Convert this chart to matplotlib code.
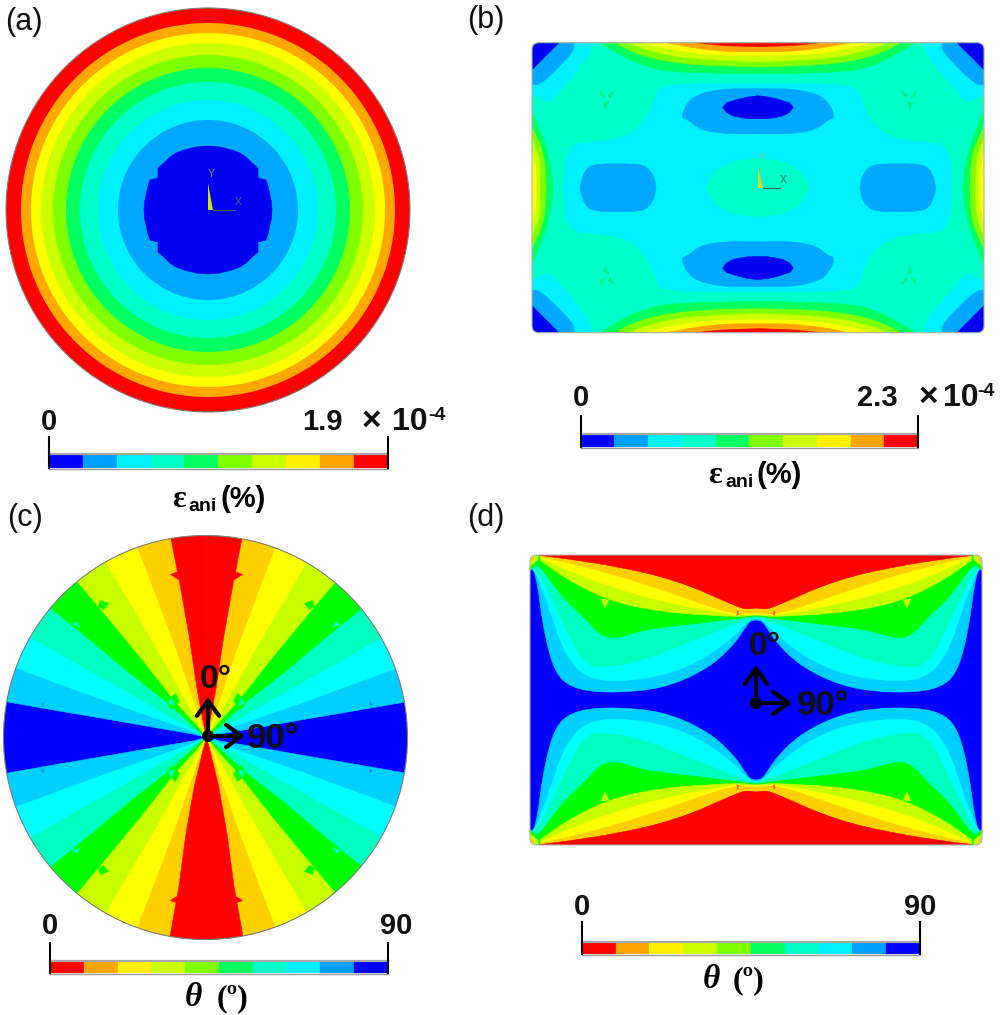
import numpy as np
import matplotlib
matplotlib.use('Agg')
import matplotlib.pyplot as plt
from matplotlib.patches import Circle, FancyBboxPatch, Polygon, Rectangle

# ---------------- COLOURS ----------------
bar_colors = ['#0000ff', '#00a0ff', '#00f0ff', '#00ffc8', '#00ff60',
              '#80ff00', '#ccff00', '#ffef00', '#ffa500', '#ff0000']
c_red, c_orange, c_yellow, c_lime = '#ff0000', '#ffd000', '#ffff00', '#c8ff00'
c_green, c_teal, c_cyan, c_sky, c_blue = '#00ff00', '#00ffc0', '#00ffff', '#00d0ff', '#0000ff'

# ---------------- PANEL A: ring radii (px), outside to inside ----------------
a_radii = [202, 187, 177, 167, 155, 142, 128, 110, 90]
a_colors = ['#ff0000', '#ffa800', '#ffff00', '#ccff00', '#7fff00',
            '#00ff60', '#00ffc8', '#00f0ff', '#00a8ff']
a_core = [(64, 0), (63.5, 8), (62, 15), (60, 24), (58, 30), (50, 32), (50, 42), (44, 47),
          (38, 53), (32, 57), (24, 60), (12, 63), (0, 64), (0, 0)]
a_spikes = [[(31.5, 153), (32, 165), (32.5, 153)]]

# ---------------- PANEL B: contour outlines per quadrant (px from centre) ----------------
b_corner_cyan = [(167, 145), (167, 134), (205, 88), (212, 85), (226, 94)]
b_corner_sky = [(184, 145), (184, 136), (217, 103), (226, 103)]
b_corner_blue = [(199, 145), (226, 118)]
b_cross_cyan = [(0, 104), (95, 104), (103, 91), (108, 75), (122, 56), (145, 47),
                (182, 45), (192, 34), (194, 0)]
b_centre_teal = [(0, 29), (25, 27), (45, 15), (52, 0)]
b_side_sky = [(102, 0), (104, 12), (112, 22), (125, 24), (165, 24), (174, 16), (178, 0)]
b_top_sky = [(0, 99), (35, 99), (62, 93), (72, 83), (77, 70), (70, 68), (58, 58), (35, 54), (0, 54)]
b_top_blue = [(0, 92), (15, 90), (37, 83), (30, 73), (12, 69), (0, 69)]
b_top_arcs = [([(158, 145), (138, 133), (118, 123), (92, 116), (25, 114), (0, 114)], '#00ff60'),
              ([(143, 145), (122, 134), (92, 126), (50, 122), (0, 121)], '#7fff00'),
              ([(130, 145), (105, 136), (70, 129), (0, 126)], '#ccff00'),
              ([(115, 145), (85, 138), (50, 133), (0, 132)], '#ffff00'),
              ([(92, 145), (60, 139), (30, 136), (0, 136)], '#ffa500'),
              ([(62, 145), (35, 142), (0, 141)], '#ff0000')]
b_side_arcs = [([(226, 76), (218, 58), (208, 30), (205, 0)], '#00ff60'),
               ([(226, 61), (218, 44), (213, 28), (212, 0)], '#7fff00'),
               ([(226, 49), (221, 36), (218, 24), (218, 0)], '#ccff00'),
               ([(226, 34), (222, 18), (222, 0)], '#ffff00')]
b_specks = [[(143, 97), (150, 93), (148, 89)], [(153, 90), (158, 92), (157, 97)],
            [(149, 87), (155, 84), (152, 78)]]

# ---------------- PANEL C: band edges, degrees from vertical at each radius ----------------
c_stations = [15, 50, 100, 150, 260]
c_edges = [[76, 79, 79.5, 79.8, 79.9],
           [66, 69, 70, 70, 69.9],
           [59, 60, 60, 60.3, 60.3],
           [50, 48, 50, 50, 50.4],
           [38, 41, 39.5, 39.5, 39.7],
           [27, 29, 29, 29.5, 30],
           [19, 19, 19, 19.5, 20.2],
           [12, 11, 9.7, 9.8, 10.3]]
c_red_lower = [15, 14, 12, 10.5, 10.3]
c_edge_colors = [c_sky, c_cyan, c_teal, c_green, c_lime, c_yellow, c_orange, c_red]
c_spur_red = [(28, 166), (36, 163), (28, 158)]
c_spur_green = [(103, 128), (108, 131), (106, 137), (98, 134)]
c_spur_teal = [(126, 110), (134, 113), (130, 116)]
c_diamond_green = [(31, 44), (40, 36), (35, 28), (27, 36)]
c_diamond_teal = [(35, 40), (38, 34), (32, 32)]
c_dot_sky = [(163, 36), (166, 33), (163, 31)]

# ---------------- PANEL D: lower edge of each band per quadrant (px from centre) ----------------
d_sky = [(0, 80), (6, 79), (11, 72), (21, 57), (41, 37), (71, 20), (104, 10), (151, 7),
         (184, 12), (201, 27), (212, 67), (220, 127), (226, 132)]
d_cyan = [(0, 81.5), (6, 81), (21, 65), (44, 47), (71, 32), (104, 22), (151, 18), (177, 27),
          (194, 53), (207, 93), (221, 130), (226, 133)]
d_teal = [(0, 83), (16, 78), (66, 58), (106, 42), (149, 32), (171, 35), (189, 67), (216, 127), (226, 134)]
d_green = [(0, 84), (13, 82), (73, 75), (113, 70), (141, 61), (156, 65), (174, 85), (193, 102),
           (218, 137), (226, 137)]
d_lime = [(0, 85), (19, 83), (96, 88), (149, 100), (193, 123), (218, 142), (226, 142)]
d_yellow = [(0, 86), (26, 84.5), (113, 103), (173, 123), (216, 143), (226, 143)]
d_orange = [(0, 87), (23, 85.5), (79, 105), (146, 127), (214, 143.5), (226, 144)]
d_red = [(0, 92), (8, 91), (16, 92), (79, 120), (146, 135), (213, 144.5), (226, 145)]
d_bands = [(d_sky, c_sky), (d_cyan, c_cyan), (d_teal, c_teal), (d_green, c_green),
           (d_lime, c_lime), (d_yellow, c_yellow), (d_orange, c_orange), (d_red, c_red)]
d_corner = [([(216, 137), (226, 130), (226, 145), (216, 145)], c_green),
            ([(218, 140), (226, 134), (226, 145), (218, 145)], c_lime),
            ([(222, 141), (226, 137), (226, 145), (222, 145)], c_orange)]
d_spur_lime = [(147, 100), (151, 92), (155, 101)]
d_speck_red = [(17, 85), (18, 90), (19, 85)]

# ---------------- SETUP ----------------
plt.rcParams['font.family'] = 'Liberation Sans'
fig = plt.figure(figsize=(10, 10.15), dpi=100)
ax = fig.add_axes([0, 0, 1, 1])
ax.set_xlim(0, 1000)
ax.set_ylim(1015, 0)
ax.axis('off')


def smooth(pts, n=3):
    # corner cutting, the read-off outlines are coarse
    pts = np.array(pts, dtype=float)
    for _ in range(n):
        q = 0.75 * pts[:-1] + 0.25 * pts[1:]
        r = 0.25 * pts[:-1] + 0.75 * pts[1:]
        mid = np.empty((2 * len(q), 2))
        mid[0::2] = q
        mid[1::2] = r
        pts = np.vstack([pts[:1], mid, pts[-1:]])
    return [tuple(p) for p in pts]


def quad_poly(pts, color, cx, cy, clip=None, z=2):
    # one outline, mirrored into all four quadrants
    for sx, sy in [(1, 1), (-1, 1), (1, -1), (-1, -1)]:
        xy = [(cx + sx * p[0], cy - sy * p[1]) for p in pts]
        pg = Polygon(xy, closed=True, facecolor=color, edgecolor=color, lw=0.4, zorder=z)
        ax.add_patch(pg)
        if clip is not None:
            pg.set_clip_path(clip)


def rounded(cx, cy, hw, hh, color):
    box = FancyBboxPatch((cx - hw, cy - hh), 2 * hw, 2 * hh, boxstyle='round,pad=0,rounding_size=7',
                         facecolor=color, edgecolor='none', zorder=1)
    ax.add_patch(box)
    return box


def colorbar(x0, x1, y0, y1, ytick, colors):
    edges = np.linspace(x0, x1, len(colors) + 1)
    for i, col in enumerate(colors):
        ax.add_patch(Rectangle((edges[i], y0), edges[i + 1] - edges[i], y1 - y0, facecolor=col, edgecolor=col, lw=0.2, zorder=2))
    ax.plot([x0, x1], [y0 - 1, y0 - 1], color='#a8a8a8', lw=1.6, zorder=3)
    ax.plot([x0, x1], [y1 + 0.5, y1 + 0.5], color='#9a9a9a', lw=1.0, zorder=3)
    for x in (x0, x1):
        ax.plot([x, x], [ytick, y1], color='black', lw=1.5, zorder=4)


def big(x, y, s, ha='center', size=21):
    ax.text(x, y, s, ha=ha, va='baseline', fontsize=size, fontweight='bold', color='#111111', zorder=9)


def triad(x, y, ytip, xend, col, ycol):
    ax.add_patch(Polygon([(x, ytip), (x, y), (x + 5, y)], facecolor=col, edgecolor='none', zorder=5))
    ax.plot([x + 5, xend], [y, y], color='#3c6a50', lw=0.8, zorder=5)
    ax.text(x + 3, ytip - 9, 'Y', fontsize=7.5, color=ycol, ha='center', va='center', zorder=5)
    ax.text(xend + 3, y - 8, 'X', fontsize=7.5, color='#3f6a66', ha='center', va='center', zorder=5)


def arrows(x, y, ytip, xtip):
    for tip in [(x, ytip), (xtip, y)]:
        ax.annotate('', xy=tip, xytext=(x, y), zorder=7,
                    arrowprops=dict(arrowstyle='->,head_length=0.55,head_width=0.4', lw=3, color='black',
                                    shrinkA=0, shrinkB=0, mutation_scale=20))
    ax.add_patch(Circle((x, y), 6, facecolor='black', edgecolor='none', zorder=8))


# ---------------- (a) ----------------
cx_a, cy_a = 208, 210
for r, col in zip(a_radii, a_colors):
    ax.add_patch(Circle((cx_a, cy_a), r, facecolor=col, edgecolor='none', zorder=1))
ax.add_patch(Circle((cx_a, cy_a), a_radii[0], facecolor='none', edgecolor='#808080', lw=0.8, zorder=3))
quad_poly(a_core, '#0000f0', cx_a, cy_a)
for spike in a_spikes:
    quad_poly(spike, '#ccff00', cx_a, cy_a)
triad(cx_a, cy_a, 183, 235, '#c8e020', '#7a8a70')
colorbar(49, 387.5, 455, 468, 437, bar_colors)
big(49, 430, '0')
big(302, 430, '1.9', ha='left')
big(371, 430, '×', size=24)
big(392, 430, '10', ha='left', size=23)
big(428, 420, '-4', ha='left', size=14)
ax.text(172, 507, 'ε', family='Liberation Serif', fontsize=23, fontweight='bold', zorder=6)
ax.text(188, 511, 'ani', fontsize=14, fontweight='bold', zorder=6)
ax.text(221, 507, '(%)', fontsize=21, fontweight='bold', zorder=6)

# ---------------- (b) ----------------
cx_b, cy_b = 758, 187.7
clip_b = rounded(cx_b, cy_b, 226, 145, '#00ffc8')
for poly, col in [(b_corner_cyan, '#00f0ff'), (b_corner_sky, '#00a8ff'), (b_corner_blue, '#0000f0')]:
    quad_poly(smooth(poly) + [(226, 145)], col, cx_b, cy_b, clip_b)
quad_poly(smooth(b_cross_cyan) + [(0, 0)], '#00f0ff', cx_b, cy_b, clip_b)
quad_poly(smooth(b_centre_teal) + [(0, 0)], '#00ffc8', cx_b, cy_b, clip_b)
quad_poly(smooth(b_side_sky), '#00a8ff', cx_b, cy_b, clip_b)
quad_poly(smooth(b_top_sky, 2), '#00a8ff', cx_b, cy_b, clip_b)
quad_poly(smooth(b_top_blue, 1), '#0000f0', cx_b, cy_b, clip_b)
for poly, col in b_top_arcs:
    quad_poly(smooth(poly) + [(0, 145)], col, cx_b, cy_b, clip_b)
for poly, col in b_side_arcs:
    quad_poly(smooth(poly) + [(226, 0)], col, cx_b, cy_b, clip_b)
for speck in b_specks:
    quad_poly(speck, '#00f090', cx_b, cy_b, clip_b)
ax.add_patch(FancyBboxPatch((cx_b - 226, cy_b - 145), 452, 290, boxstyle='round,pad=0,rounding_size=7',
                            facecolor='none', edgecolor='#b0b0b0', lw=0.8, zorder=3))
triad(cx_b, cy_b, 166.7, 780, '#d0e020', '#70d080')
colorbar(580.7, 918, 435, 447, 416, bar_colors)
big(581, 406, '0')
big(857, 406, '2.3', ha='left')
big(928, 406, '×', size=24)
big(943, 406, '10', ha='left', size=23)
big(977, 396, '-4', ha='left', size=14)
ax.text(708, 483, 'ε', family='Liberation Serif', fontsize=23, fontweight='bold', zorder=6)
ax.text(725, 487, 'ani', fontsize=14, fontweight='bold', zorder=6)
ax.text(757, 483, '(%)', fontsize=21, fontweight='bold', zorder=6)

# ---------------- (c) ----------------
cx_c, cy_c = 206.5, 737.5
clip_c = Circle((205.5, cy_c), 202, facecolor=c_blue, edgecolor='none', zorder=1)
ax.add_patch(clip_c)
for edge, col in zip(c_edges, c_edge_colors):
    ang = np.radians(edge)
    pts = [(0, 0)] + [(r * np.sin(a), r * np.cos(a)) for r, a in zip(c_stations, ang)] + [(0, 260)]
    quad_poly(pts, col, cx_c, cy_c, clip_c)
ang = np.radians(c_red_lower)
pts = [(0, 0)] + [(r * np.sin(a), -r * np.cos(a)) for r, a in zip(c_stations, ang)] + [(0, -260)]
for sx in (1, -1):
    pg = Polygon([(cx_c + sx * p[0], cy_c - p[1]) for p in pts], facecolor=c_red, edgecolor=c_red, lw=0.4, zorder=2)
    ax.add_patch(pg)
    pg.set_clip_path(clip_c)
quad_poly(c_spur_red, c_red, cx_c, cy_c, clip_c)
quad_poly(c_spur_green, c_green, cx_c, cy_c, clip_c)
quad_poly(c_spur_teal, c_teal, cx_c, cy_c, clip_c)
quad_poly(c_diamond_green, c_green, cx_c, cy_c, clip_c)
quad_poly(c_diamond_teal, c_teal, cx_c, cy_c, clip_c)
quad_poly(c_dot_sky, '#00a0ff', cx_c, cy_c, clip_c)
ax.add_patch(Circle((205.5, cy_c), 202, facecolor='none', edgecolor='#808080', lw=0.8, zorder=3))
arrows(208, 736, 697, 245)
big(200, 688, '0°', ha='left', size=24)
big(247, 748, '90°', ha='left', size=25)
colorbar(50, 388, 962, 973, 943, bar_colors[::-1])
big(50, 934, '0')
big(396, 934, '90')
ax.text(185, 1006, 'θ', family='Liberation Serif', style='italic', fontweight='bold', fontsize=24, zorder=6)
ax.text(217, 1006, '(º)', family='Liberation Serif', fontsize=23, fontweight='bold', zorder=6)

# ---------------- (d) ----------------
cx_d, cy_d = 756, 700
clip_d = rounded(cx_d, cy_d, 226, 145, c_blue)
for band, col in d_bands:
    quad_poly(smooth(band, 2) + [(226, 145), (0, 145)], col, cx_d, cy_d, clip_d)
for poly, col in d_corner:
    quad_poly(poly, col, cx_d, cy_d, clip_d)
quad_poly(d_spur_lime, c_lime, cx_d, cy_d, clip_d)
quad_poly(d_speck_red, '#ff6000', cx_d, cy_d, clip_d)
ax.add_patch(FancyBboxPatch((cx_d - 226, cy_d - 145), 452, 290, boxstyle='round,pad=0,rounding_size=7',
                            facecolor='none', edgecolor='#b0b0b0', lw=0.8, zorder=3))
arrows(756, 703, 665, 792)
big(749, 655, '0°', ha='left', size=24)
big(797, 715, '90°', ha='left', size=25)
colorbar(581.7, 920, 943, 954, 922, bar_colors[::-1])
big(582, 915, '0')
big(920, 915, '90')
ax.text(703, 988, 'θ', family='Liberation Serif', style='italic', fontweight='bold', fontsize=24, zorder=6)
ax.text(733, 988, '(º)', family='Liberation Serif', fontsize=23, fontweight='bold', zorder=6)

# ---------------- PANEL LETTERS ----------------
for x, y, s in [(5, 30, '(a)'), (467, 28, '(b)'), (7, 526, '(c)'), (467, 526, '(d)')]:
    ax.text(x, y, s, fontsize=22, color='#111111', zorder=6)

fig.savefig('out.png', dpi=100)
